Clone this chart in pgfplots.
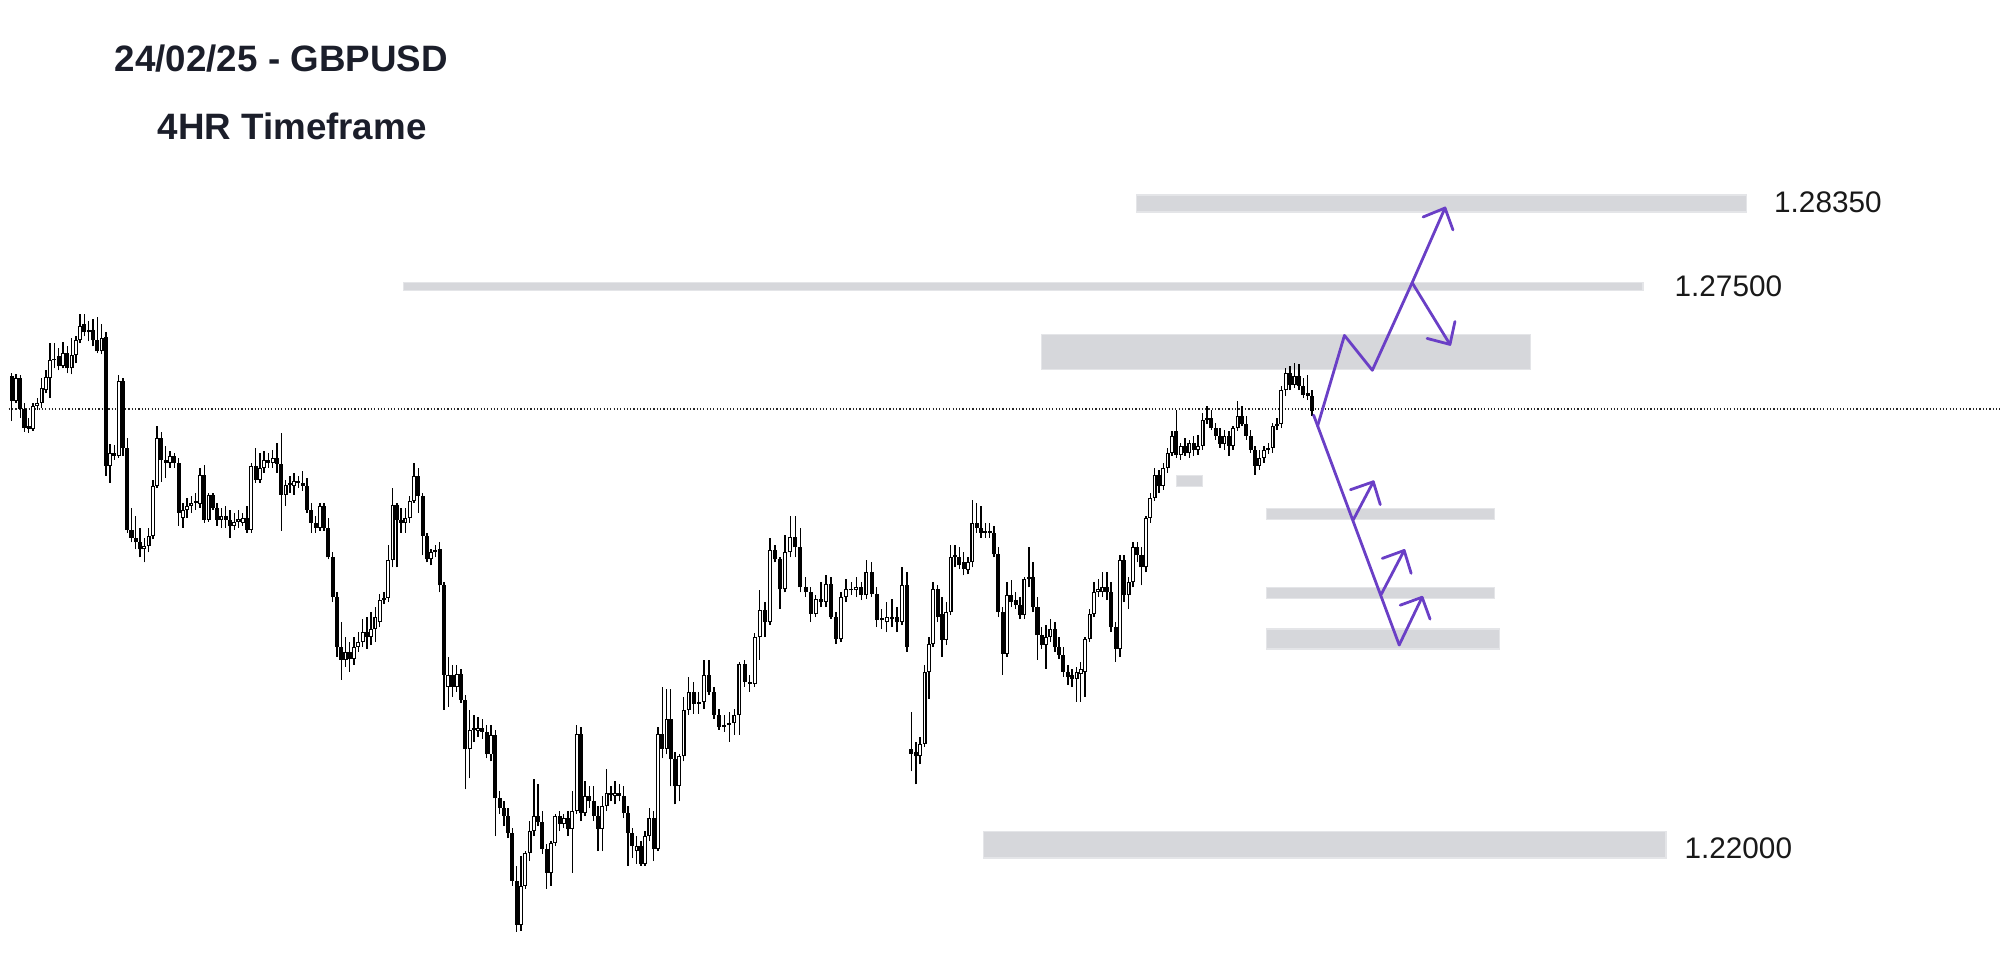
\documentclass[border=0pt]{standalone}
\usepackage{fontspec}
\setmainfont{Liberation Sans}
\usepackage{pgfplots}
\usepackage{pgfplotstable}
\pgfplotsset{compat=1.18}

\definecolor{zonefill}{RGB}{214,215,219}
\definecolor{zoneedge}{RGB}{228,229,232}
\definecolor{pathpurple}{RGB}{106,63,198}
\definecolor{titleink}{RGB}{27,30,42}

% GBPUSD 4H candles: x position, open, high, low, close
\pgfplotstableread{
x o h l c
3.0 1.2657 1.2660 1.2612 1.2632
7.3 1.2632 1.2659 1.2630 1.2655
11.6 1.2655 1.2658 1.2615 1.2624
15.9 1.2624 1.2630 1.2601 1.2605
20.2 1.2607 1.2615 1.2600 1.2604
24.5 1.2604 1.2630 1.2602 1.2627
28.8 1.2627 1.2635 1.2623 1.2630
33.1 1.2630 1.2655 1.2625 1.2645
37.4 1.2643 1.2663 1.2640 1.2656
41.7 1.2655 1.2690 1.2635 1.2673
46.0 1.2673 1.2690 1.2665 1.2674
50.3 1.2677 1.2685 1.2663 1.2667
54.6 1.2667 1.2691 1.2665 1.2680
58.9 1.2680 1.2687 1.2660 1.2665
63.2 1.2665 1.2695 1.2659 1.2678
67.5 1.2678 1.2697 1.2670 1.2693
71.8 1.2693 1.2720 1.2690 1.2707
76.1 1.2709 1.2720 1.2697 1.2701
80.4 1.2701 1.2713 1.2692 1.2703
84.7 1.2703 1.2715 1.2687 1.2693
89.0 1.2693 1.2717 1.2680 1.2682
93.3 1.2682 1.2709 1.2679 1.2695
97.6 1.2696 1.2701 1.2557 1.2567
101.9 1.2567 1.2589 1.2550 1.2580
106.2 1.2580 1.2588 1.2573 1.2577
110.5 1.2577 1.2658 1.2575 1.2652
114.8 1.2652 1.2655 1.2577 1.2585
119.1 1.2585 1.2595 1.2500 1.2503
123.4 1.2503 1.2525 1.2490 1.2495
127.7 1.2495 1.2517 1.2483 1.2490
132.0 1.2490 1.2505 1.2475 1.2483
136.3 1.2483 1.2495 1.2470 1.2486
140.6 1.2486 1.2505 1.2480 1.2497
144.9 1.2497 1.2553 1.2493 1.2547
149.2 1.2547 1.2607 1.2545 1.2595
153.5 1.2595 1.2601 1.2551 1.2573
157.8 1.2573 1.2587 1.2555 1.2570
162.1 1.2570 1.2582 1.2565 1.2577
166.4 1.2577 1.2580 1.2565 1.2570
170.7 1.2570 1.2575 1.2507 1.2520
175.0 1.2515 1.2530 1.2505 1.2523
179.3 1.2523 1.2535 1.2515 1.2527
183.6 1.2527 1.2537 1.2520 1.2530
187.9 1.2530 1.2540 1.2523 1.2532
192.2 1.2529 1.2565 1.2525 1.2558
196.5 1.2558 1.2568 1.2510 1.2513
200.8 1.2513 1.2540 1.2511 1.2538
205.1 1.2538 1.2540 1.2523 1.2525
209.4 1.2525 1.2530 1.2507 1.2513
213.7 1.2513 1.2525 1.2505 1.2517
218.0 1.2517 1.2527 1.2505 1.2513
222.3 1.2513 1.2523 1.2495 1.2507
226.6 1.2507 1.2520 1.2503 1.2511
230.9 1.2511 1.2523 1.2505 1.2514
235.2 1.2510 1.2520 1.2507 1.2515
239.5 1.2515 1.2527 1.2500 1.2503
243.8 1.2503 1.2570 1.2500 1.2567
248.1 1.2567 1.2585 1.2550 1.2553
252.4 1.2553 1.2580 1.2550 1.2565
256.7 1.2565 1.2582 1.2560 1.2573
261.0 1.2573 1.2580 1.2565 1.2570
265.3 1.2570 1.2583 1.2565 1.2575
269.6 1.2575 1.2590 1.2560 1.2569
273.9 1.2569 1.2600 1.2502 1.2538
278.2 1.2538 1.2553 1.2527 1.2548
282.5 1.2548 1.2557 1.2540 1.2550
286.8 1.2547 1.2560 1.2538 1.2552
291.1 1.2552 1.2557 1.2545 1.2550
295.4 1.2550 1.2562 1.2542 1.2547
299.7 1.2547 1.2555 1.2520 1.2523
304.0 1.2523 1.2530 1.2500 1.2510
308.3 1.2510 1.2517 1.2500 1.2505
312.6 1.2505 1.2530 1.2502 1.2527
316.9 1.2527 1.2530 1.2502 1.2505
321.2 1.2505 1.2515 1.2473 1.2475
325.5 1.2475 1.2480 1.2430 1.2435
329.8 1.2435 1.2440 1.2375 1.2385
334.1 1.2385 1.2410 1.2352 1.2372
338.4 1.2372 1.2395 1.2365 1.2380
342.7 1.2380 1.2390 1.2360 1.2373
347.0 1.2373 1.2395 1.2367 1.2385
351.3 1.2385 1.2400 1.2380 1.2390
355.6 1.2390 1.2413 1.2385 1.2400
359.9 1.2400 1.2415 1.2383 1.2395
364.2 1.2395 1.2420 1.2387 1.2403
368.5 1.2403 1.2425 1.2390 1.2415
372.8 1.2410 1.2438 1.2405 1.2432
377.1 1.2432 1.2440 1.2428 1.2434
381.4 1.2434 1.2487 1.2430 1.2472
385.7 1.2472 1.2545 1.2465 1.2528
390.0 1.2528 1.2530 1.2465 1.2513
394.3 1.2513 1.2525 1.2500 1.2510
398.6 1.2510 1.2525 1.2500 1.2515
402.9 1.2515 1.2537 1.2510 1.2532
407.2 1.2532 1.2570 1.2530 1.2557
411.5 1.2557 1.2565 1.2520 1.2537
415.8 1.2537 1.2540 1.2477 1.2497
420.1 1.2497 1.2500 1.2470 1.2473
424.4 1.2473 1.2483 1.2467 1.2480
428.7 1.2480 1.2487 1.2475 1.2482
433.0 1.2483 1.2490 1.2440 1.2447
437.3 1.2447 1.2450 1.2322 1.2357
441.6 1.2345 1.2375 1.2325 1.2357
445.9 1.2357 1.2367 1.2335 1.2345
450.2 1.2345 1.2367 1.2340 1.2358
454.5 1.2358 1.2363 1.2329 1.2332
458.8 1.2332 1.2337 1.2242 1.2283
463.1 1.2283 1.2322 1.2253 1.2302
467.4 1.2302 1.2317 1.2290 1.2304
471.7 1.2301 1.2315 1.2295 1.2304
476.0 1.2304 1.2313 1.2293 1.2300
480.3 1.2300 1.2307 1.2273 1.2277
484.6 1.2277 1.2307 1.2270 1.2297
488.9 1.2297 1.2302 1.2195 1.2233
493.2 1.2233 1.2240 1.2217 1.2223
497.5 1.2223 1.2230 1.2205 1.2215
501.8 1.2215 1.2223 1.2193 1.2198
506.1 1.2198 1.2203 1.2145 1.2150
510.4 1.2150 1.2165 1.2099 1.2106
514.7 1.2106 1.2175 1.2100 1.2145
519.0 1.2145 1.2180 1.2142 1.2178
523.3 1.2178 1.2210 1.2170 1.2200
527.6 1.2200 1.2252 1.2195 1.2215
531.9 1.2215 1.2247 1.2205 1.2209
536.2 1.2209 1.2220 1.2177 1.2182
540.5 1.2182 1.2187 1.2142 1.2158
544.8 1.2158 1.2190 1.2145 1.2188
549.1 1.2188 1.2217 1.2185 1.2215
553.4 1.2215 1.2220 1.2200 1.2207
557.7 1.2207 1.2217 1.2203 1.2213
562.0 1.2213 1.2220 1.2195 1.2202
566.3 1.2202 1.2240 1.2158 1.2220
570.6 1.2220 1.2307 1.2217 1.2298
574.9 1.2298 1.2305 1.2210 1.2218
579.2 1.2218 1.2250 1.2215 1.2235
583.5 1.2235 1.2245 1.2223 1.2230
587.8 1.2230 1.2245 1.2210 1.2215
592.1 1.2215 1.2225 1.2180 1.2202
596.4 1.2202 1.2235 1.2180 1.2225
600.7 1.2225 1.2262 1.2220 1.2238
605.0 1.2238 1.2245 1.2230 1.2236
609.3 1.2235 1.2250 1.2227 1.2238
613.6 1.2238 1.2247 1.2230 1.2235
617.9 1.2235 1.2245 1.2213 1.2218
622.2 1.2218 1.2225 1.2165 1.2198
626.5 1.2198 1.2203 1.2173 1.2185
630.8 1.2180 1.2195 1.2167 1.2185
635.1 1.2185 1.2190 1.2165 1.2167
639.4 1.2167 1.2200 1.2165 1.2195
643.7 1.2195 1.2223 1.2190 1.2213
648.0 1.2213 1.2220 1.2170 1.2182
652.3 1.2182 1.2305 1.2180 1.2298
656.6 1.2298 1.2345 1.2273 1.2283
660.9 1.2283 1.2343 1.2277 1.2313
665.2 1.2313 1.2343 1.2245 1.2272
669.5 1.2272 1.2280 1.2227 1.2245
673.8 1.2245 1.2277 1.2230 1.2275
678.0 1.2275 1.2335 1.2270 1.2322
683.1 1.2322 1.2355 1.2317 1.2340
688.2 1.2340 1.2350 1.2318 1.2328
693.3 1.2328 1.2340 1.2318 1.2330
698.4 1.2330 1.2372 1.2323 1.2357
703.6 1.2357 1.2372 1.2337 1.2340
708.7 1.2340 1.2345 1.2313 1.2317
713.8 1.2317 1.2323 1.2302 1.2305
718.9 1.2305 1.2317 1.2300 1.2307
724.0 1.2307 1.2320 1.2290 1.2309
729.1 1.2309 1.2323 1.2297 1.2317
734.2 1.2317 1.2370 1.2297 1.2368
739.3 1.2368 1.2372 1.2345 1.2350
744.4 1.2350 1.2357 1.2340 1.2348
749.5 1.2348 1.2399 1.2345 1.2395
754.6 1.2395 1.2442 1.2372 1.2422
759.7 1.2422 1.2430 1.2395 1.2410
764.8 1.2410 1.2495 1.2407 1.2482
769.9 1.2482 1.2487 1.2470 1.2473
775.0 1.2473 1.2475 1.2423 1.2443
780.1 1.2443 1.2498 1.2440 1.2480
785.2 1.2480 1.2517 1.2475 1.2496
790.3 1.2496 1.2517 1.2475 1.2485
795.4 1.2485 1.2505 1.2440 1.2445
800.6 1.2445 1.2455 1.2435 1.2440
805.7 1.2440 1.2445 1.2410 1.2418
810.8 1.2418 1.2437 1.2415 1.2433
815.9 1.2433 1.2450 1.2425 1.2430
821.0 1.2430 1.2457 1.2425 1.2448
826.1 1.2448 1.2455 1.2413 1.2415
831.2 1.2415 1.2420 1.2388 1.2393
836.3 1.2393 1.2440 1.2390 1.2435
841.4 1.2435 1.2453 1.2430 1.2443
846.5 1.2443 1.2450 1.2437 1.2442
851.6 1.2442 1.2455 1.2435 1.2445
856.7 1.2445 1.2450 1.2432 1.2437
861.8 1.2437 1.2472 1.2433 1.2460
866.9 1.2460 1.2470 1.2435 1.2438
872.0 1.2438 1.2445 1.2405 1.2412
877.1 1.2412 1.2423 1.2403 1.2414
882.2 1.2410 1.2430 1.2400 1.2415
887.3 1.2415 1.2433 1.2405 1.2413
892.4 1.2415 1.2425 1.2400 1.2410
897.6 1.2410 1.2465 1.2407 1.2447
902.7 1.2447 1.2460 1.2380 1.2385
907.0 1.2283 1.2320 1.2260 1.2278
911.4 1.2280 1.2290 1.2247 1.2275
915.7 1.2275 1.2295 1.2267 1.2288
920.1 1.2288 1.2367 1.2285 1.2360
924.5 1.2360 1.2395 1.2333 1.2388
928.8 1.2388 1.2450 1.2385 1.2443
933.2 1.2443 1.2447 1.2410 1.2415
937.6 1.2418 1.2435 1.2375 1.2392
942.0 1.2392 1.2430 1.2387 1.2420
946.3 1.2420 1.2487 1.2417 1.2475
950.7 1.2475 1.2487 1.2465 1.2477
955.1 1.2475 1.2485 1.2463 1.2467
959.4 1.2470 1.2480 1.2457 1.2463
963.8 1.2462 1.2475 1.2458 1.2470
968.2 1.2470 1.2533 1.2465 1.2510
972.5 1.2510 1.2530 1.2500 1.2505
976.9 1.2505 1.2527 1.2495 1.2500
981.3 1.2500 1.2510 1.2495 1.2502
985.6 1.2502 1.2510 1.2495 1.2500
990.0 1.2500 1.2507 1.2475 1.2478
994.4 1.2478 1.2485 1.2415 1.2420
998.7 1.2420 1.2425 1.2357 1.2378
1003.1 1.2378 1.2450 1.2375 1.2437
1007.4 1.2437 1.2452 1.2425 1.2430
1011.8 1.2432 1.2440 1.2423 1.2427
1016.1 1.2427 1.2435 1.2413 1.2417
1020.5 1.2417 1.2455 1.2413 1.2453
1024.9 1.2453 1.2485 1.2445 1.2455
1029.2 1.2455 1.2470 1.2420 1.2425
1033.6 1.2425 1.2435 1.2372 1.2397
1037.9 1.2397 1.2405 1.2383 1.2387
1042.3 1.2387 1.2407 1.2363 1.2395
1046.6 1.2395 1.2413 1.2390 1.2403
1051.0 1.2403 1.2410 1.2380 1.2385
1055.4 1.2385 1.2395 1.2373 1.2377
1059.7 1.2377 1.2385 1.2355 1.2360
1064.1 1.2360 1.2367 1.2347 1.2355
1068.4 1.2357 1.2363 1.2345 1.2353
1072.8 1.2353 1.2365 1.2330 1.2360
1077.1 1.2358 1.2370 1.2330 1.2363
1081.5 1.2360 1.2395 1.2335 1.2393
1085.9 1.2393 1.2423 1.2390 1.2418
1090.2 1.2418 1.2450 1.2415 1.2440
1094.6 1.2440 1.2453 1.2435 1.2443
1098.9 1.2440 1.2460 1.2435 1.2445
1103.3 1.2445 1.2460 1.2432 1.2440
1107.6 1.2440 1.2450 1.2400 1.2405
1112.0 1.2405 1.2410 1.2370 1.2383
1116.4 1.2383 1.2477 1.2375 1.2472
1120.7 1.2472 1.2477 1.2430 1.2437
1125.1 1.2437 1.2455 1.2423 1.2450
1129.4 1.2450 1.2490 1.2445 1.2485
1133.8 1.2485 1.2490 1.2470 1.2477
1138.1 1.2477 1.2485 1.2447 1.2465
1142.5 1.2465 1.2517 1.2460 1.2515
1146.9 1.2515 1.2540 1.2510 1.2535
1151.2 1.2535 1.2565 1.2532 1.2558
1155.6 1.2558 1.2563 1.2540 1.2547
1159.9 1.2547 1.2570 1.2543 1.2565
1164.3 1.2565 1.2585 1.2560 1.2580
1168.6 1.2580 1.2602 1.2577 1.2597
1173.0 1.2602 1.2623 1.2575 1.2578
1177.4 1.2578 1.2590 1.2573 1.2587
1181.8 1.2587 1.2595 1.2577 1.2580
1186.2 1.2580 1.2593 1.2575 1.2590
1190.6 1.2590 1.2597 1.2577 1.2583
1195.0 1.2583 1.2598 1.2578 1.2587
1199.4 1.2587 1.2620 1.2583 1.2613
1203.8 1.2613 1.2627 1.2609 1.2615
1208.2 1.2615 1.2623 1.2603 1.2605
1212.6 1.2605 1.2610 1.2593 1.2597
1217.0 1.2597 1.2605 1.2585 1.2589
1221.4 1.2589 1.2603 1.2583 1.2597
1225.8 1.2597 1.2602 1.2577 1.2587
1230.2 1.2587 1.2607 1.2583 1.2605
1234.6 1.2605 1.2632 1.2602 1.2617
1239.0 1.2617 1.2627 1.2607 1.2609
1243.4 1.2609 1.2617 1.2593 1.2597
1247.8 1.2597 1.2603 1.2580 1.2583
1252.2 1.2583 1.2587 1.2558 1.2567
1256.6 1.2567 1.2583 1.2563 1.2575
1261.0 1.2575 1.2587 1.2570 1.2583
1265.4 1.2583 1.2590 1.2579 1.2585
1269.8 1.2585 1.2610 1.2580 1.2607
1274.2 1.2607 1.2615 1.2603 1.2609
1278.6 1.2609 1.2647 1.2605 1.2643
1283.0 1.2643 1.2665 1.2637 1.2660
1287.4 1.2660 1.2667 1.2643 1.2648
1291.8 1.2648 1.2670 1.2645 1.2657
1296.2 1.2657 1.2669 1.2643 1.2647
1300.6 1.2647 1.2655 1.2635 1.2638
1305.0 1.2640 1.2658 1.2633 1.2637
1309.4 1.2637 1.2643 1.2617 1.2622
}\candles

\begin{document}
\begin{tikzpicture}
\begin{axis}[
    width=20cm, height=9.77cm, scale only axis,
    xmin=0, xmax=2000,
    ymin=1.2058, ymax=1.3035,
    hide axis, clip=false,
    error bars/error mark=none,
]
\path (rel axis cs:0,0) rectangle (rel axis cs:1,1);

% support / resistance zones
\addplot[fill=zonefill, draw=zoneedge, line width=0.35pt] coordinates {(1133,1.2839) (1746,1.2839) (1746,1.2822) (1133,1.2822)} -- cycle;
\addplot[fill=zonefill, draw=zoneedge, line width=0.35pt] coordinates {(397,1.2751) (1642,1.2751) (1642,1.2743) (397,1.2743)} -- cycle;
\addplot[fill=zonefill, draw=zoneedge, line width=0.35pt] coordinates {(1038,1.2699) (1529,1.2699) (1529,1.2664) (1038,1.2664)} -- cycle;
\addplot[fill=zonefill, draw=zoneedge, line width=0.35pt] coordinates {(1173,1.2557) (1199,1.2557) (1199,1.2546) (1173,1.2546)} -- cycle;
\addplot[fill=zonefill, draw=zoneedge, line width=0.35pt] coordinates {(1264,1.2524) (1493,1.2524) (1493,1.2513) (1264,1.2513)} -- cycle;
\addplot[fill=zonefill, draw=zoneedge, line width=0.35pt] coordinates {(1264,1.2445) (1493,1.2445) (1493,1.2434) (1264,1.2434)} -- cycle;
\addplot[fill=zonefill, draw=zoneedge, line width=0.35pt] coordinates {(1264,1.2403) (1498,1.2403) (1498,1.2383) (1264,1.2383)} -- cycle;
\addplot[fill=zonefill, draw=zoneedge, line width=0.35pt] coordinates {(979,1.2200) (1665,1.2200) (1665,1.2173) (979,1.2173)} -- cycle;

% current price line
\addplot[black!85, line width=0.35pt, dash pattern=on 0.35pt off 0.6pt] coordinates {(0,1.2624) (2000,1.2624)};

% wicks
\addplot[draw=none, error bars/.cd, y dir=plus, y explicit,
    error bar style={line width=0.4pt, black}]
    table[x=x, y=l, y error plus expr=\thisrow{h}-\thisrow{l}] {\candles};
% bodies
\addplot[draw=none, error bars/.cd, y dir=plus, y explicit,
    error bar style={line width=1.15pt, black}]
    table[x=x, y expr={min(\thisrow{o},\thisrow{c})},
          y error plus expr={max(abs(\thisrow{c}-\thisrow{o}),0.00012)}] {\candles};
% hollow inside of rising candles
\addplot[draw=none, error bars/.cd, y dir=plus, y explicit,
    error bar style={line width=0.5pt, white}]
    table[x=x, y expr={\thisrow{o}+0.0001},
          y error plus expr={max(\thisrow{c}-\thisrow{o}-0.0002,0)}] {\candles};

% projected paths
\addplot[pathpurple, line width=0.8pt, line join=round, line cap=round] coordinates {(1311,1.2618) (1397,1.2387)};
\addplot[pathpurple, line width=0.8pt, line join=round, line cap=round] coordinates {(1315,1.2607) (1342,1.2698) (1370,1.2663) (1410,1.2751) (1443,1.2826)};
\addplot[pathpurple, line width=0.8pt, line join=round, line cap=round] coordinates {(1421,1.2817) (1443,1.2826) (1451,1.2804)};
\addplot[pathpurple, line width=0.8pt, line join=round, line cap=round] coordinates {(1410,1.2751) (1448,1.2689)};
\addplot[pathpurple, line width=0.8pt, line join=round, line cap=round] coordinates {(1425,1.2695) (1448,1.2689) (1453,1.2712)};
\addplot[pathpurple, line width=0.8pt, line join=round, line cap=round] coordinates {(1351,1.2513) (1371,1.2551)};
\addplot[pathpurple, line width=0.8pt, line join=round, line cap=round] coordinates {(1348,1.2543) (1371,1.2551) (1378,1.2528)};
\addplot[pathpurple, line width=0.8pt, line join=round, line cap=round] coordinates {(1379,1.2438) (1402,1.2482)};
\addplot[pathpurple, line width=0.8pt, line join=round, line cap=round] coordinates {(1380,1.2474) (1402,1.2482) (1409,1.2459)};
\addplot[pathpurple, line width=0.8pt, line join=round, line cap=round] coordinates {(1397,1.2387) (1420,1.2435)};
\addplot[pathpurple, line width=0.8pt, line join=round, line cap=round] coordinates {(1398,1.2427) (1420,1.2435) (1428,1.2413)};

% titles and level labels
\node[anchor=base west, inner sep=0, text=titleink, font=\fontsize{10.5}{12}\selectfont\bfseries] at (axis cs:106,1.2963) {24/02/25 - GBPUSD};
\node[anchor=base west, inner sep=0, text=titleink, font=\fontsize{10.5}{12}\selectfont\bfseries] at (axis cs:149,1.2895) {4HR Timeframe};
\node[anchor=west, inner sep=0, text=black!90, font=\fontsize{8.5}{10}\selectfont] at (axis cs:1773,1.2832) {1.28350};
\node[anchor=west, inner sep=0, text=black!90, font=\fontsize{8.5}{10}\selectfont] at (axis cs:1673,1.2747) {1.27500};
\node[anchor=west, inner sep=0, text=black!90, font=\fontsize{8.5}{10}\selectfont] at (axis cs:1683,1.2183) {1.22000};
\end{axis}
\end{tikzpicture}
\end{document}
